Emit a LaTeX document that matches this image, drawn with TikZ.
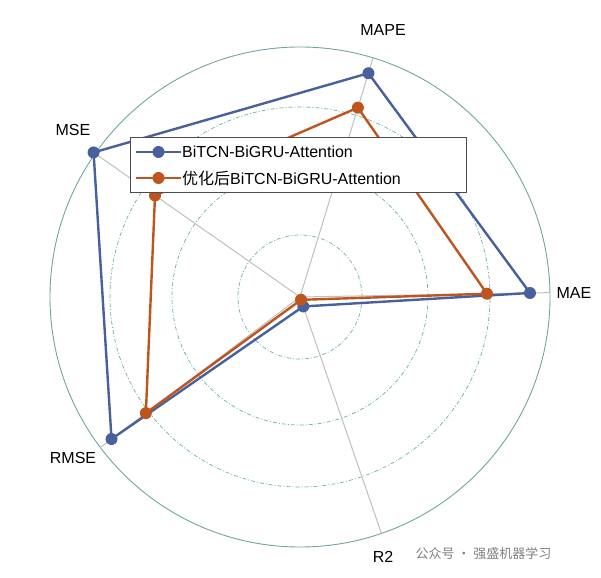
\documentclass[tikz,border=0pt]{standalone}
\usepackage{fontspec}
\usetikzlibrary{calc}
\setmainfont{Liberation Sans}
\newfontfamily\cjk{Noto Sans CJK SC}
\definecolor{ringc}{RGB}{110,175,170}
\definecolor{bluec}{RGB}{72,96,156}
\definecolor{orc}{RGB}{190,84,30}
\begin{document}
\begin{tikzpicture}[x=1pt,y=1pt,
  ring/.style={ringc,line width=0.7pt,dash pattern=on 4pt off 2pt on 1pt off 2pt},
  axisl/.style={gray!50,line width=1pt},
  ser/.style={line width=2.4pt,line join=round},
  lab/.style={font=\fontsize{16}{18}\selectfont}]
\useasboundingbox (0,0) rectangle (601,577);
\coordinate (O) at (300,280);
\foreach \r in {62,128,190} \draw[ring] (O) circle (\r);
\draw[ringc!80!gray,line width=0.9pt] (O) circle (250);
\foreach \a/\n in {1/mae,73/mape,145/mse,217/rmse,289/rtwo}
  \draw[axisl] (O) -- ++(\a:250) coordinate (\n);
\node[lab,anchor=west] at ([xshift=3pt]mae) {MAE};
\node[lab] at (383,547) {MAPE};
\node[lab] at (73,447) {MSE};
\node[lab] at (73,119) {RMSE};
\node[lab] at (383,20) {R2};
% blue
\path (O) ++(1:230) coordinate (b1) (O) ++(73:234) coordinate (b2)
 (O) ++(145:252) coordinate (b3) (O) ++(217:236) coordinate (b4) (O) ++(289:10) coordinate (b5);
\draw[ser,bluec] (b1)--(b2)--(b3)--(b4)--(b5)--cycle;
\foreach \p in {b1,b2,b3,b4,b5} \fill[bluec] (\p) circle (6);
% orange
\path (O) ++(1:187) coordinate (o1) (O) ++(73:198) coordinate (o2)
 (O) ++(145:177) coordinate (o3) (O) ++(217:193) coordinate (o4) (O) ++(289:3) coordinate (o5);
\draw[ser,orc] (o1)--(o2)--(o3)--(o4)--(o5)--cycle;
\foreach \p in {o1,o2,o3,o4,o5} \fill[orc] (\p) circle (6);
% legend
\node[draw=black!70,fill=white,line width=0.6pt,minimum width=336pt,minimum height=55pt] (leg) at (298,412.5) {};
\coordinate (l1) at (136,425);
\coordinate (l2) at (136,399);
\draw[ser,bluec] (l1) -- ++(45,0) coordinate (l1e);
\fill[bluec] ($(l1)!0.5!(l1e)$) circle (6);
\draw[ser,orc] (l2) -- ++(45,0) coordinate (l2e);
\fill[orc] ($(l2)!0.5!(l2e)$) circle (6);
\node[lab,anchor=west,inner sep=1pt] at (l1e) {BiTCN-BiGRU-Attention};
\node[lab,anchor=west,inner sep=1pt] at (l2e) {{\cjk 优化后}BiTCN-BiGRU-Attention};
\node[font=\cjk\fontsize{13}{15}\selectfont,text=gray,anchor=west] at (412,23) {公众号 · 强盛机器学习};
\end{tikzpicture}
\end{document}
